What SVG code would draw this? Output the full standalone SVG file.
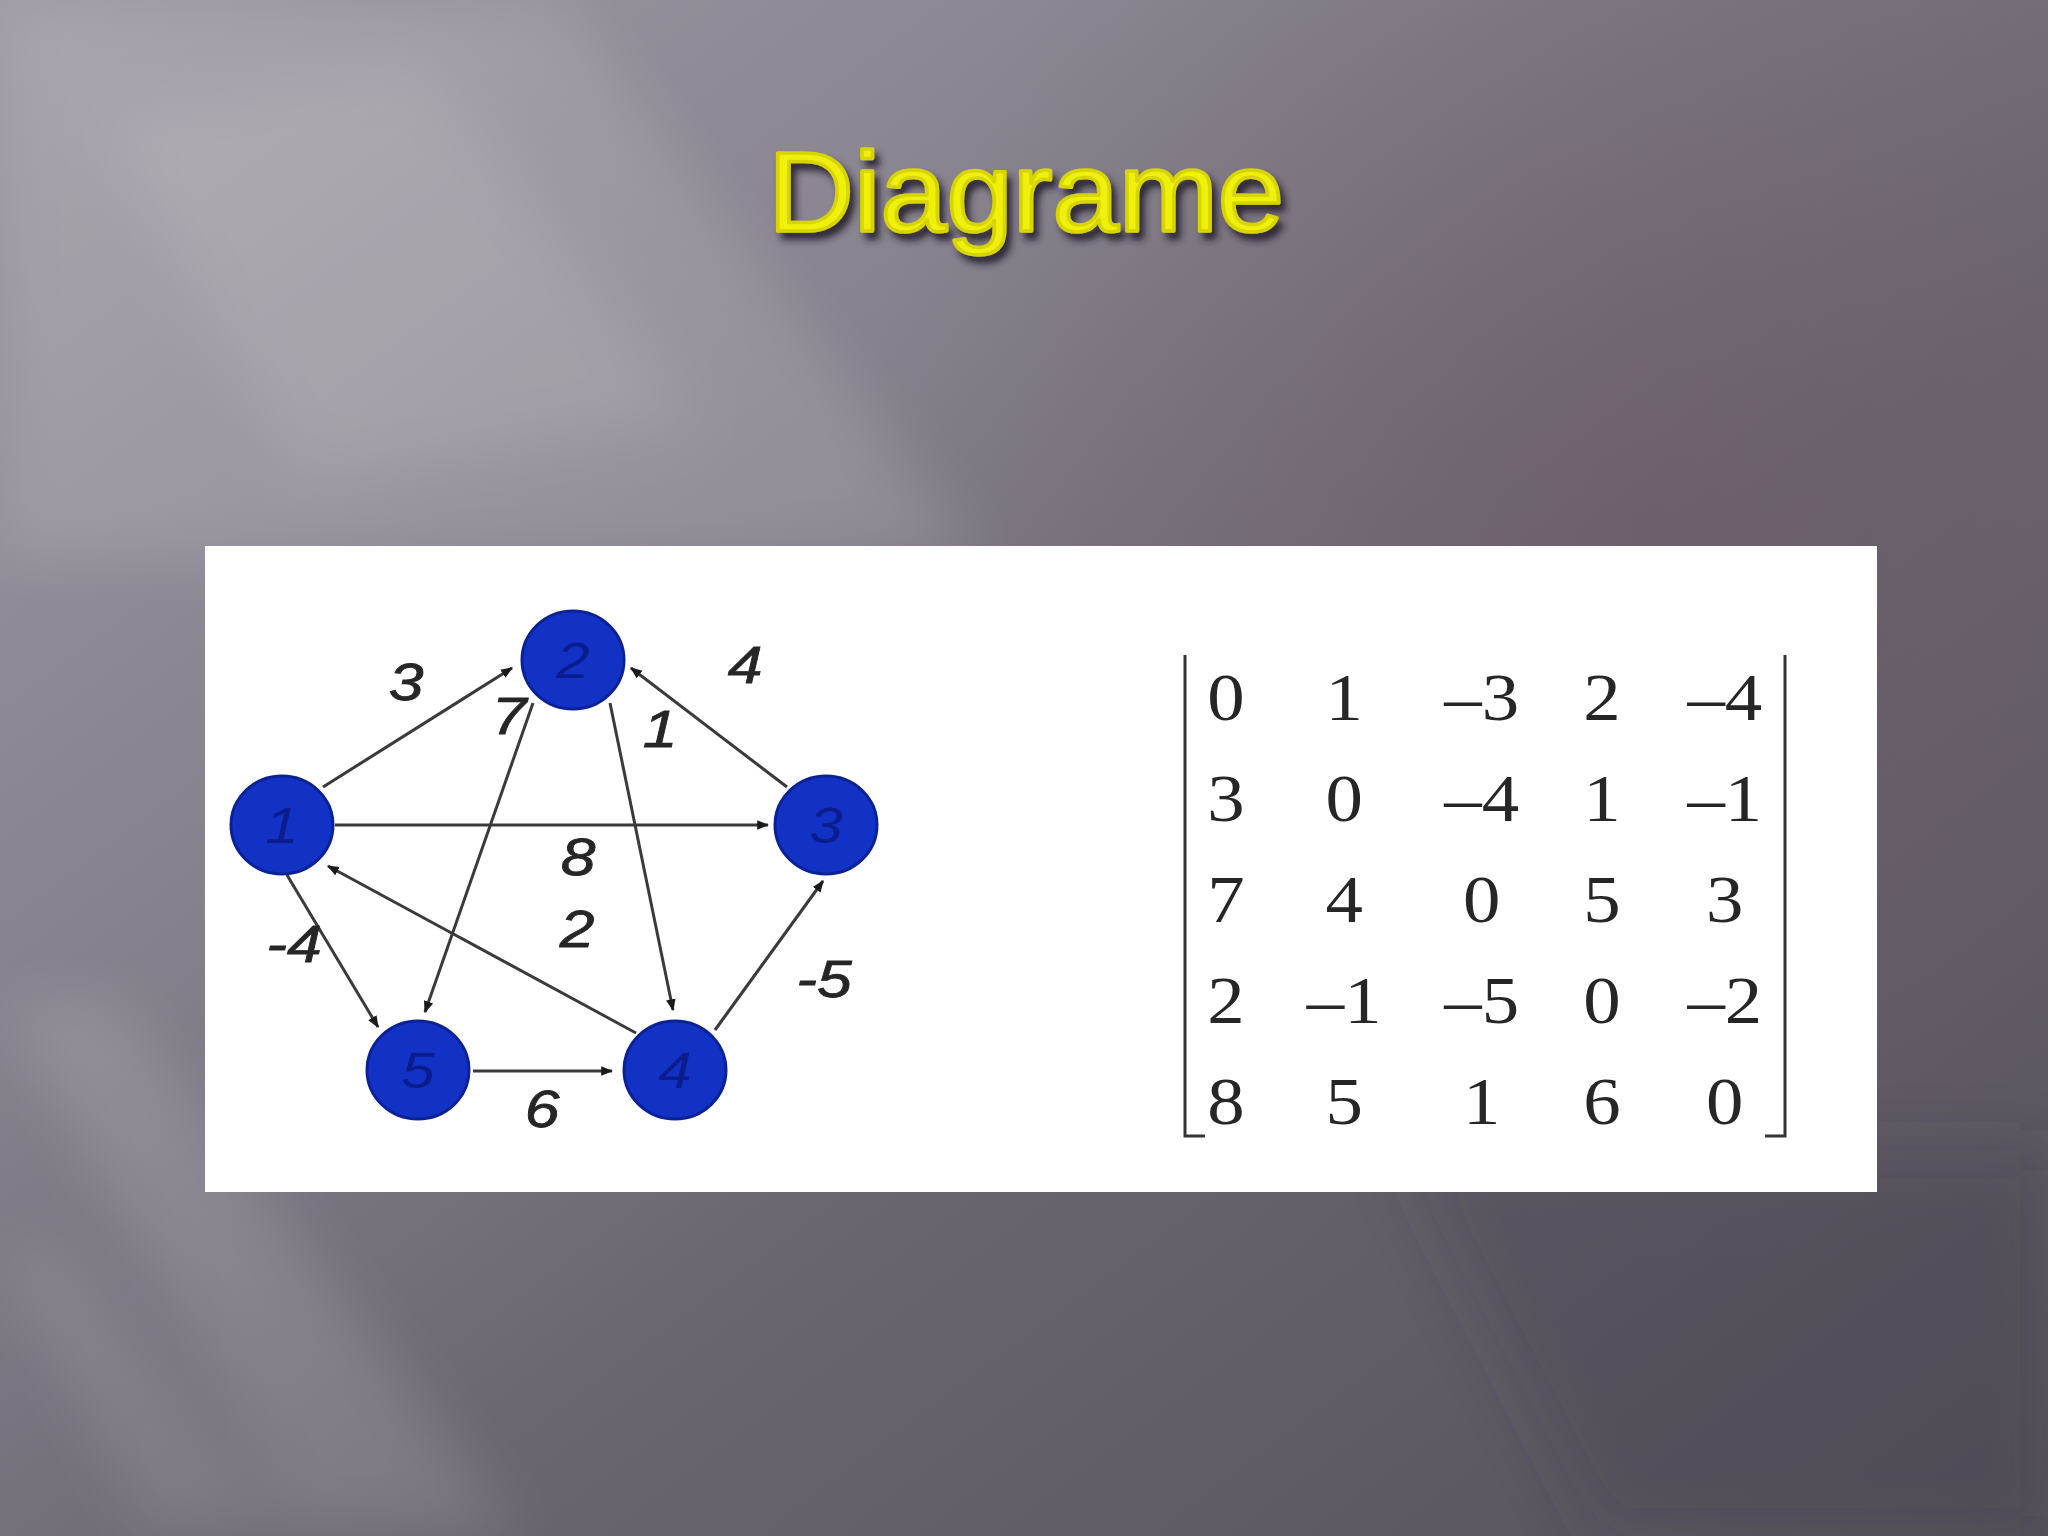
<svg xmlns="http://www.w3.org/2000/svg" width="2048" height="1536" viewBox="0 0 2048 1536">
  <defs>
    <linearGradient id="bg" x1="0" y1="0" x2="1" y2="1">
      <stop offset="0" stop-color="#9e9aa4"/>
      <stop offset="0.35" stop-color="#85808b"/>
      <stop offset="0.6" stop-color="#6b6570"/>
      <stop offset="1" stop-color="#55505a"/>
    </linearGradient>
    <radialGradient id="mauve" cx="1650" cy="520" r="800" gradientUnits="userSpaceOnUse">
      <stop offset="0" stop-color="#6a5a66" stop-opacity="0.55"/>
      <stop offset="1" stop-color="#6a5a66" stop-opacity="0"/>
    </radialGradient>
    <filter id="blur" x="-20%" y="-20%" width="140%" height="140%">
      <feGaussianBlur stdDeviation="30"/>
    </filter>
    <filter id="shadow" x="-10%" y="-20%" width="120%" height="150%">
      <feGaussianBlur in="SourceAlpha" stdDeviation="3.5"/>
      <feOffset dx="5" dy="7" result="b"/>
      <feFlood flood-color="#241e2c" flood-opacity="0.9"/>
      <feComposite in2="b" operator="in"/>
      <feMerge><feMergeNode/><feMergeNode in="SourceGraphic"/></feMerge>
    </filter>
    <marker id="arrow" viewBox="0 0 10 10" refX="9" refY="5" markerWidth="4" markerHeight="4" orient="auto" markerUnits="strokeWidth">
      <path d="M0,1 L10,5 L0,9 Z" fill="#1a1a1a"/>
    </marker>
    <style>
      .edge { stroke: #3a3a3a; stroke-width: 3; fill: none; marker-end: url(#arrow); }
      .node { fill: #1232c6; stroke: #0b2296; stroke-width: 3; }
      .nlabel { font-family: "Liberation Sans", Arial, sans-serif; font-style: italic; font-size: 50px; fill: #0b1d8c; text-anchor: middle; }
      .elabel { font-family: "Liberation Sans", Arial, sans-serif; font-style: italic; font-size: 52px; fill: #262626; stroke: #262626; stroke-width: 0.8; text-anchor: middle; }
      .mx { font-family: "Liberation Serif", "Times New Roman", serif; font-size: 68px; fill: #262626; text-anchor: middle; }
      .title { font-family: "Liberation Sans", Arial, sans-serif; font-size: 114px; fill: #f0f00a; stroke: #d8d400; stroke-width: 3.5; stroke-linejoin: round; text-anchor: middle; }
    </style>
  </defs>

  <!-- background -->
  <rect x="0" y="0" width="2048" height="1536" fill="url(#bg)"/>
  <rect x="0" y="0" width="2048" height="1536" fill="url(#mauve)"/>
  <g filter="url(#blur)">
    <polygon points="0,0 560,0 980,560 0,560" fill="#ffffff" opacity="0.12"/>
    <polygon points="100,120 420,60 700,420 300,480" fill="#ffffff" opacity="0.1"/>
    <polygon points="0,1000 120,1000 520,1536 300,1536" fill="#ffffff" opacity="0.12"/>
    <polygon points="0,1250 60,1250 300,1536 150,1536" fill="#ffffff" opacity="0.1"/>
    <polygon points="1400,1150 2048,1150 2048,1536 1600,1536" fill="#3e3842" opacity="0.25"/>
  </g>

  <!-- title -->
  <g id="title" filter="url(#shadow)">
    <text class="title" x="1026" y="231" textLength="516" lengthAdjust="spacingAndGlyphs">Diagrame</text>
  </g>

  <!-- white picture area -->
  <rect id="panel" x="205" y="546" width="1672" height="646" fill="#ffffff"/>

  <!-- connectors -->
  <g id="connectors">
    <line class="edge" x1="323" y1="787" x2="512" y2="668"/>
    <line class="edge" x1="787" y1="787" x2="631" y2="668"/>
    <line class="edge" x1="335" y1="825" x2="768" y2="825"/>
    <line class="edge" x1="533" y1="703" x2="425" y2="1012"/>
    <line class="edge" x1="610" y1="703" x2="673" y2="1010"/>
    <line class="edge" x1="636" y1="1033" x2="328" y2="866"/>
    <line class="edge" x1="287" y1="875" x2="378" y2="1027"/>
    <line class="edge" x1="473" y1="1071" x2="612" y2="1071"/>
    <line class="edge" x1="715" y1="1030" x2="823" y2="881"/>
  </g>

  <!-- edge labels -->
  <g id="edge-labels">
    <text class="elabel" transform="translate(406,700) scale(1.2,1)">3</text>
    <text class="elabel" transform="translate(509,734) scale(1.2,1)">7</text>
    <text class="elabel" transform="translate(745,683) scale(1.2,1)">4</text>
    <text class="elabel" transform="translate(660,747) scale(1.2,1)">1</text>
    <text class="elabel" transform="translate(578,875) scale(1.2,1)">8</text>
    <text class="elabel" transform="translate(577,947) scale(1.2,1)">2</text>
    <text class="elabel" transform="translate(294,962) scale(1.2,1)">-4</text>
    <text class="elabel" transform="translate(824,997) scale(1.2,1)">-5</text>
    <text class="elabel" transform="translate(542,1127) scale(1.2,1)">6</text>
  </g>

  <!-- nodes -->
  <g id="node1">
    <ellipse class="node" cx="282" cy="825" rx="51" ry="49"/>
    <text class="nlabel" transform="translate(282,843) scale(1.2,1)">1</text>
  </g>
  <g id="node2">
    <ellipse class="node" cx="573" cy="660" rx="51" ry="49"/>
    <text class="nlabel" transform="translate(573,678) scale(1.2,1)">2</text>
  </g>
  <g id="node3">
    <ellipse class="node" cx="826" cy="825" rx="51" ry="49"/>
    <text class="nlabel" transform="translate(826,843) scale(1.2,1)">3</text>
  </g>
  <g id="node4">
    <ellipse class="node" cx="675" cy="1070" rx="51" ry="49"/>
    <text class="nlabel" transform="translate(675,1088) scale(1.2,1)">4</text>
  </g>
  <g id="node5">
    <ellipse class="node" cx="418" cy="1070" rx="51" ry="49"/>
    <text class="nlabel" transform="translate(418,1088) scale(1.2,1)">5</text>
  </g>

  <!-- matrix -->
  <g id="matrix">
    <path d="M1185,655 V1136 H1205" fill="none" stroke="#333333" stroke-width="3"/>
    <path d="M1785,655 V1136 H1765" fill="none" stroke="#333333" stroke-width="3"/>
    <g transform="scale(1.1,1)">
      <text class="mx" x="1114.5" y="720">0</text>
      <text class="mx" x="1222" y="720">1</text>
      <text class="mx" x="1347" y="720">–3</text>
      <text class="mx" x="1456.4" y="720">2</text>
      <text class="mx" x="1568" y="720">–4</text>

      <text class="mx" x="1114.5" y="821">3</text>
      <text class="mx" x="1222" y="821">0</text>
      <text class="mx" x="1347" y="821">–4</text>
      <text class="mx" x="1456.4" y="821">1</text>
      <text class="mx" x="1568" y="821">–1</text>

      <text class="mx" x="1114.5" y="922">7</text>
      <text class="mx" x="1222" y="922">4</text>
      <text class="mx" x="1347" y="922">0</text>
      <text class="mx" x="1456.4" y="922">5</text>
      <text class="mx" x="1568" y="922">3</text>

      <text class="mx" x="1114.5" y="1023">2</text>
      <text class="mx" x="1222" y="1023">–1</text>
      <text class="mx" x="1347" y="1023">–5</text>
      <text class="mx" x="1456.4" y="1023">0</text>
      <text class="mx" x="1568" y="1023">–2</text>

      <text class="mx" x="1114.5" y="1124">8</text>
      <text class="mx" x="1222" y="1124">5</text>
      <text class="mx" x="1347" y="1124">1</text>
      <text class="mx" x="1456.4" y="1124">6</text>
      <text class="mx" x="1568" y="1124">0</text>
    </g>
  </g>
</svg>
